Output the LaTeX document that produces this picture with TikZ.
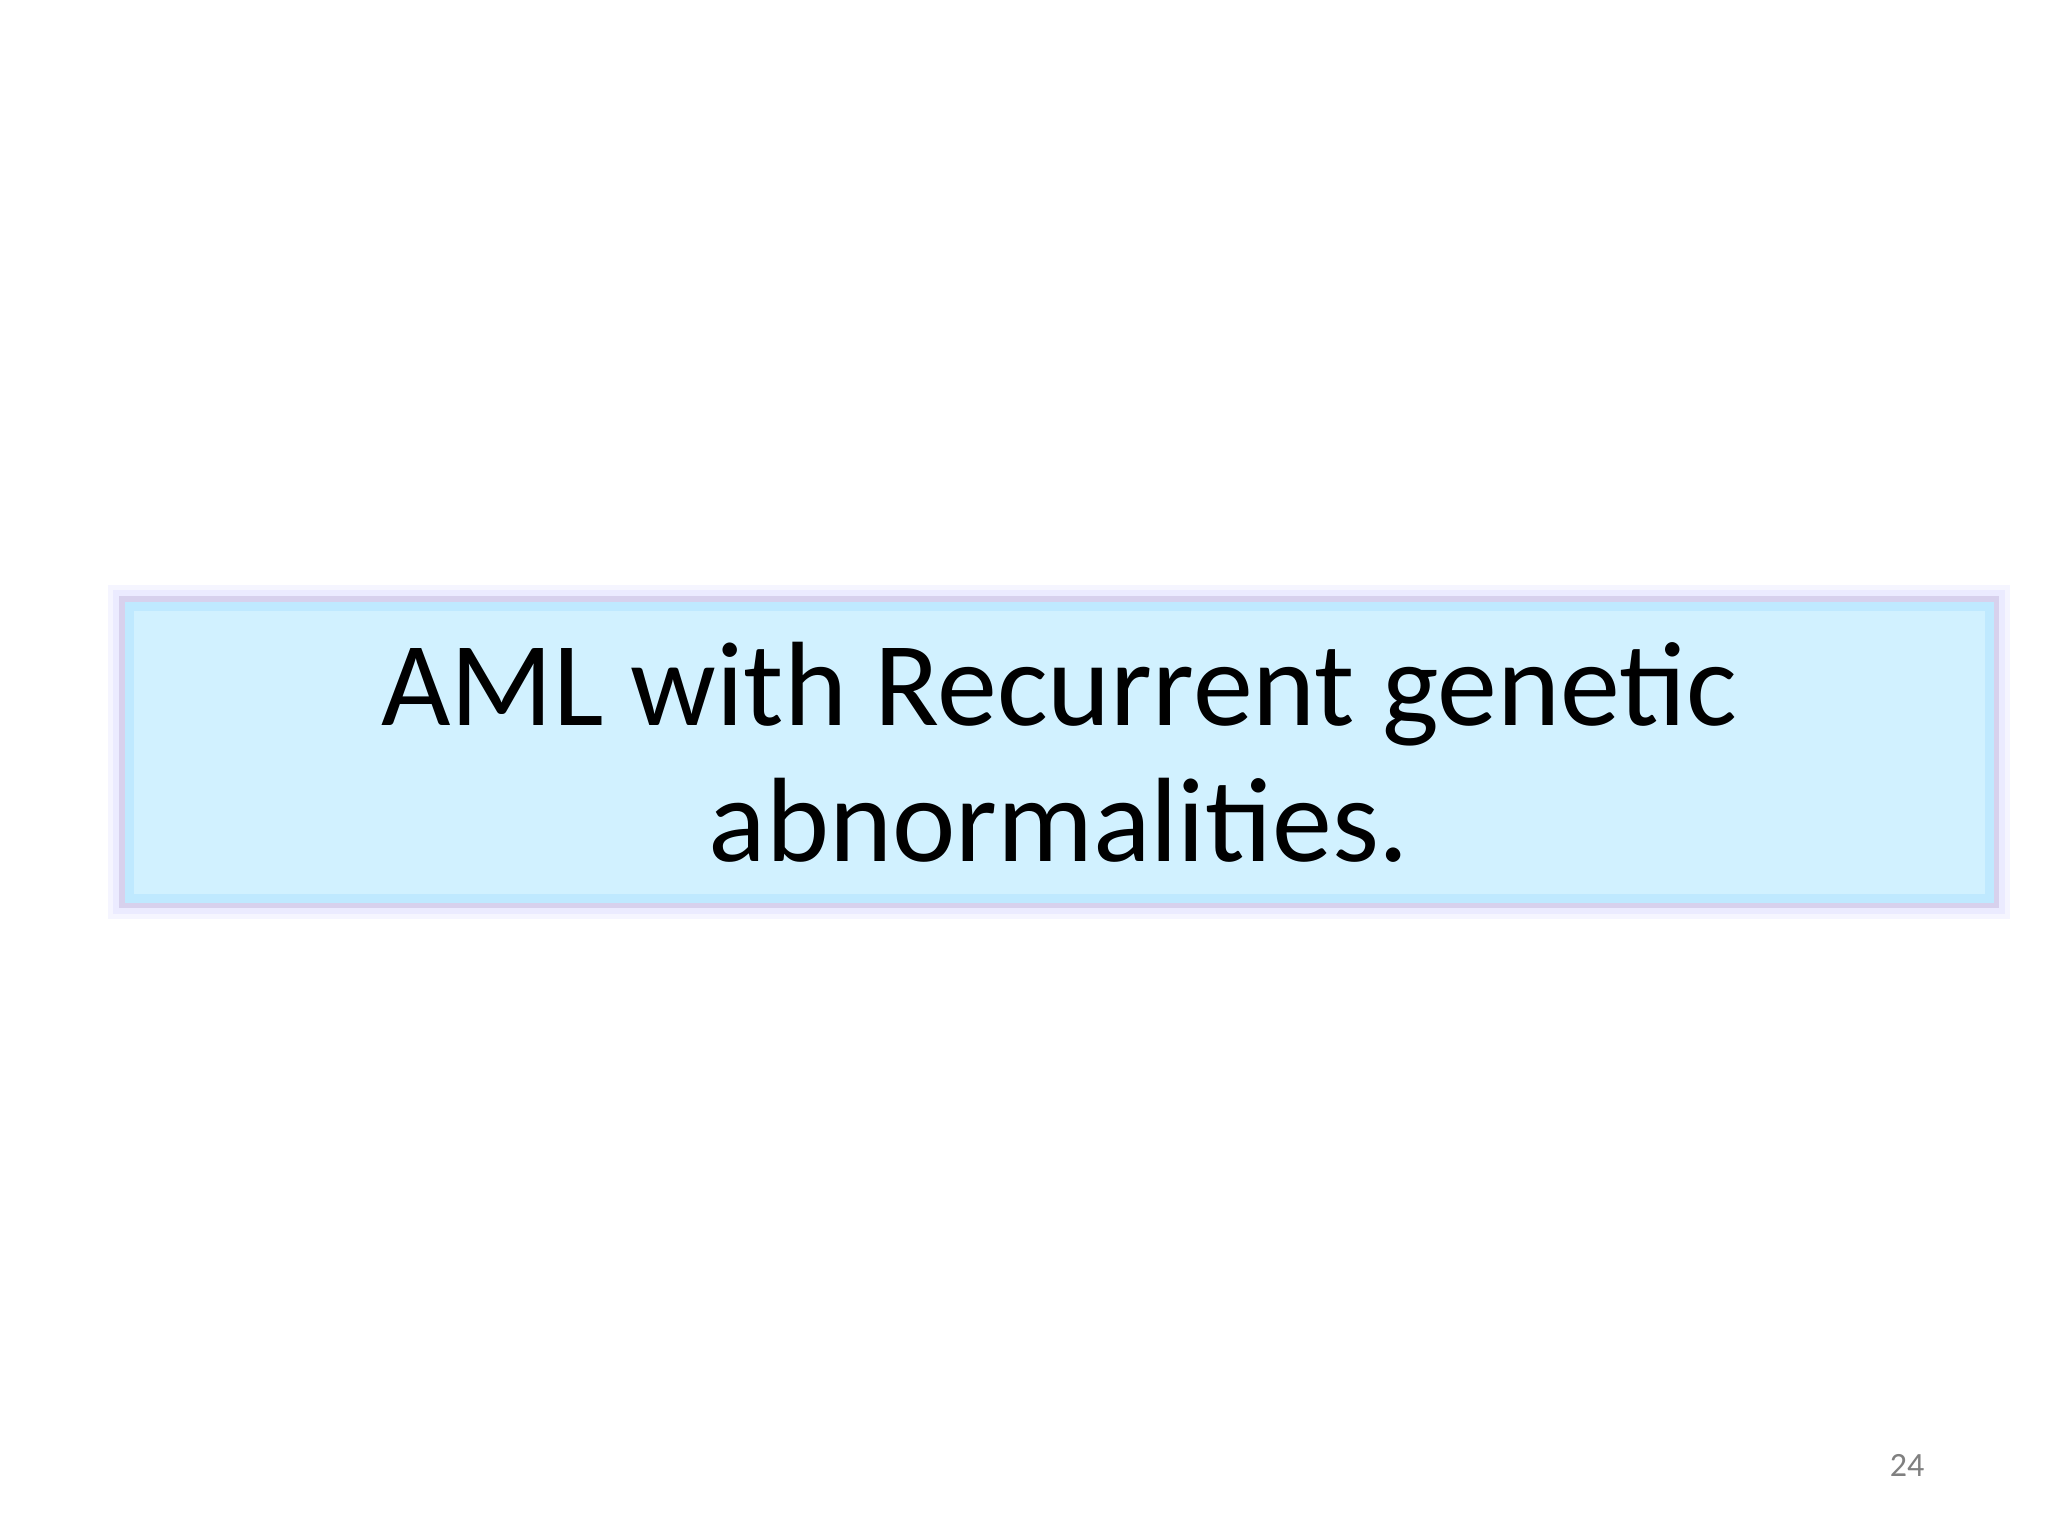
\documentclass[tikz,border=0pt]{standalone}
\usepackage{fontspec}
\setmainfont{Carlito}
\begin{document}
\begin{tikzpicture}[x=1pt,y=-1pt]
\useasboundingbox (0,0) rectangle (2048,1536);
\fill[white] (0,0) rectangle (2048,1536);
\fill[blue!8!white] (113,590) rectangle (2005,914);
\fill[blue!4!white] (108,585) rectangle (2010,919);
\fill[blue!8!white] (113,590) rectangle (2005,914);
\fill[blue!20!cyan!4!white, fill=cyan!5!blue!15!white] (119,596) rectangle (1999,908);
\node[draw=blue!35!cyan!25!white, line width=9pt, fill=blue!30!cyan!18!white, fill opacity=1, minimum width=1860pt, minimum height=292pt, inner sep=0pt] (box) at (1059,752) {};
\node[align=center, font=\fontsize{120}{136}\selectfont, text=black] (title) at (1059,752) {AML with Recurrent genetic\\abnormalities.};
\node[font=\fontsize{34}{40}\selectfont, text=gray] (pg) at (1907,1465) {24};
\end{tikzpicture}
\end{document}
